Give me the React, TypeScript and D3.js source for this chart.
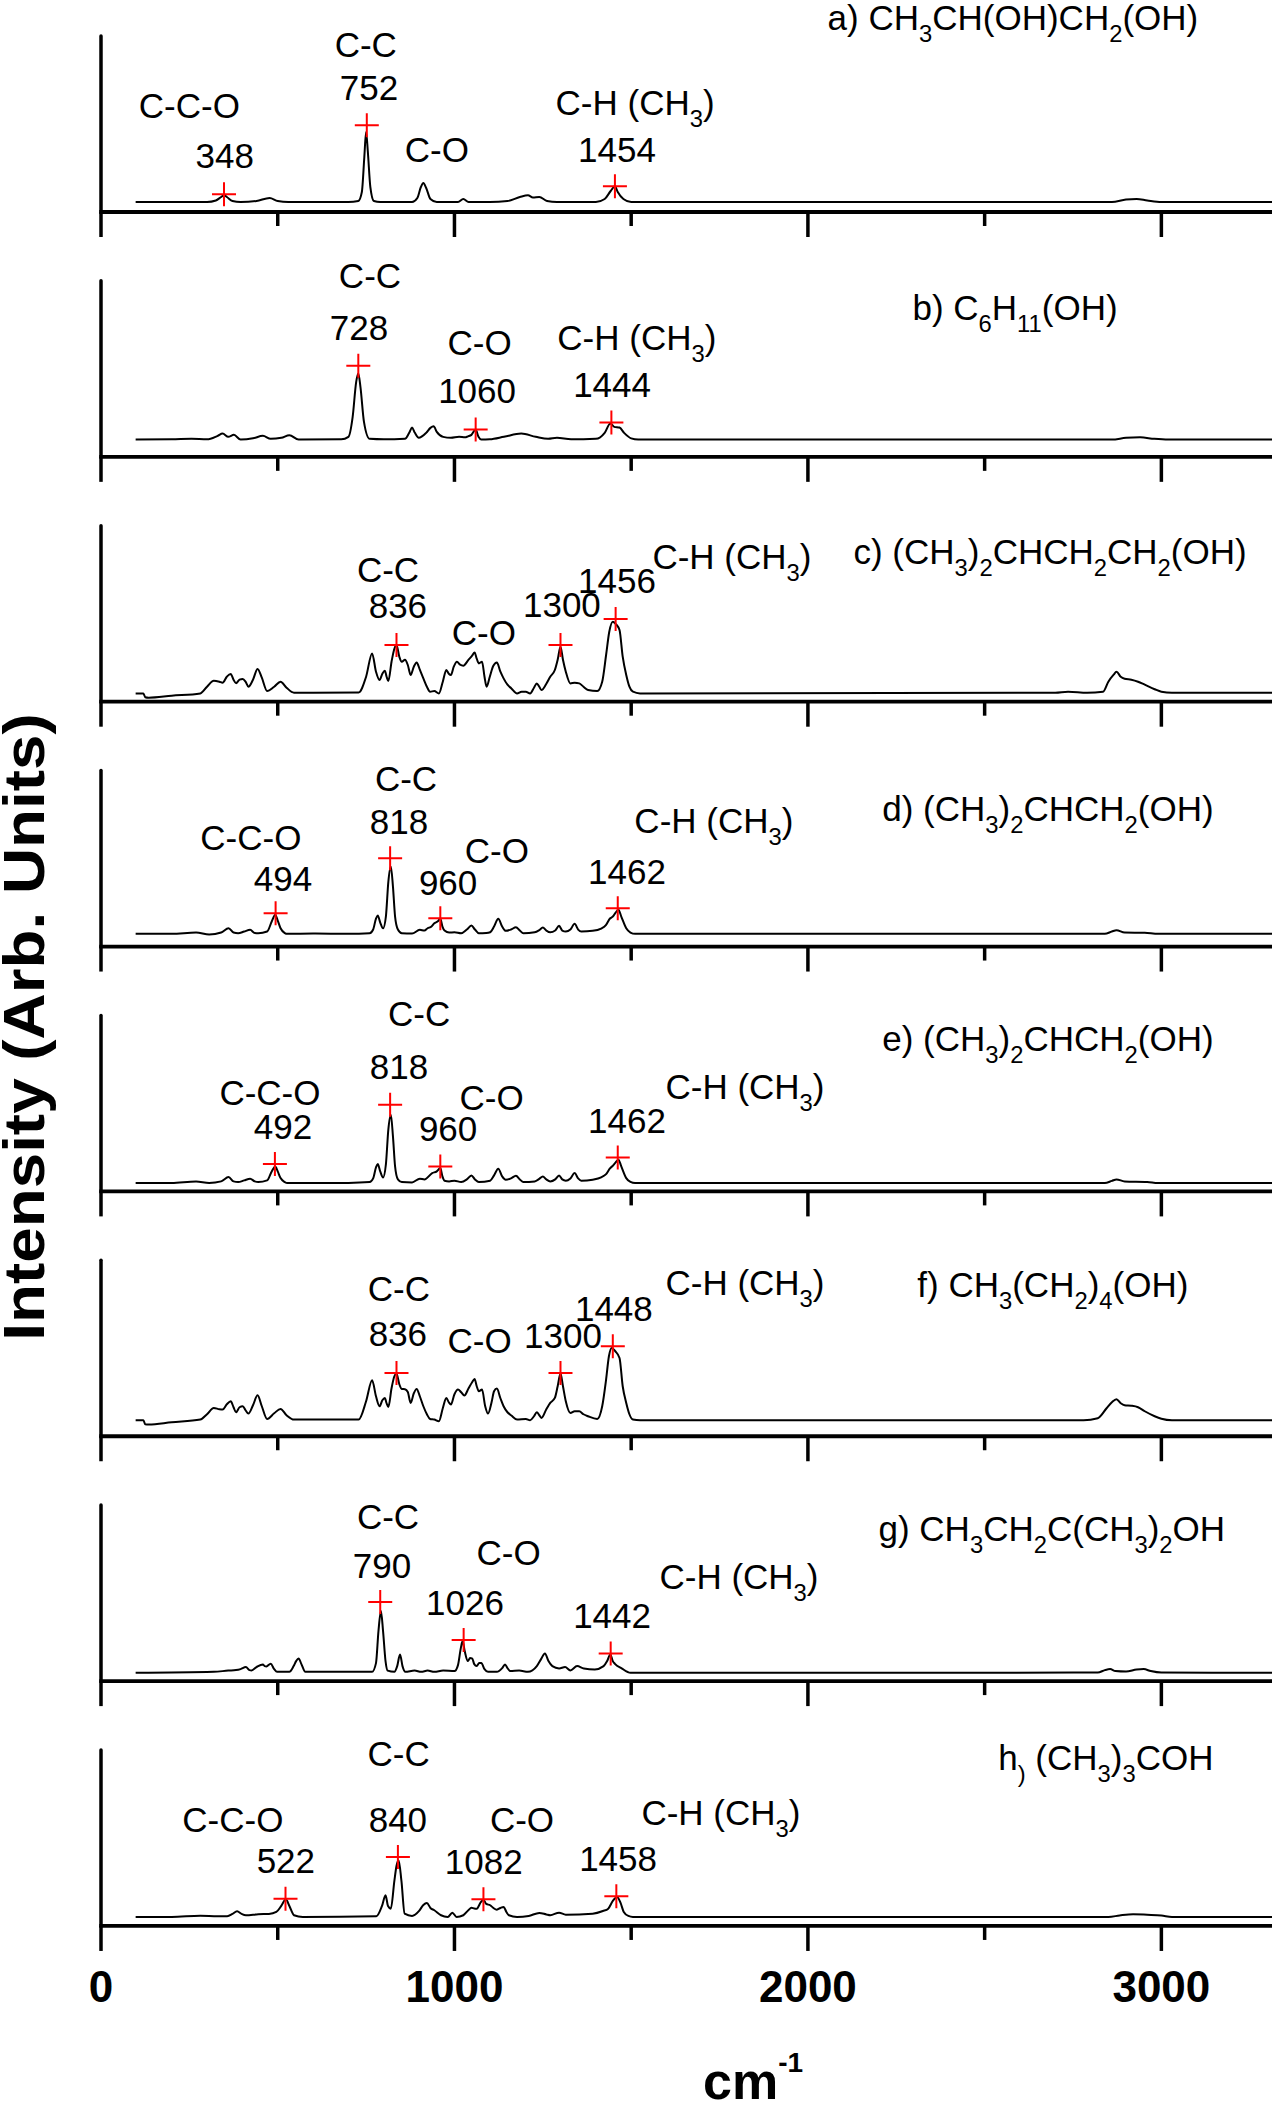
import React from 'react';
import * as d3 from 'd3';

// spectra: [wavenumber cm-1, intensity (arb.)]
const specA = [[98,0.10],[300,0.10],[325,0.115],[340,0.15],[348,0.167],[356,0.15],[372,0.11],[395,0.10],[440,0.11],[477,0.14],[500,0.11],[530,0.10],[700,0.10],[728,0.11],[738,0.2],[745,0.55],[750,0.80],[755,0.6],[762,0.25],[772,0.11],[790,0.10],[880,0.10],[895,0.14],[905,0.25],[912,0.29],[920,0.24],[932,0.13],[950,0.10],[1010,0.10],[1025,0.13],[1040,0.10],[1100,0.10],[1150,0.11],[1185,0.15],[1208,0.167],[1222,0.145],[1240,0.15],[1262,0.11],[1290,0.10],[1400,0.10],[1425,0.13],[1442,0.21],[1454,0.257],[1462,0.2],[1478,0.13],[1500,0.10],[1560,0.10],[2860,0.10],[2900,0.125],[2930,0.13],[2960,0.115],[3000,0.10],[3313,0.10]];
const specB = [[98,0.173],[200,0.175],[256,0.18],[300,0.175],[330,0.21],[344,0.233],[360,0.2],[376,0.22],[395,0.173],[430,0.185],[458,0.21],[480,0.18],[510,0.19],[533,0.217],[559,0.173],[680,0.175],[700,0.2],[712,0.4],[722,0.75],[728,0.833],[734,0.7],[744,0.35],[760,0.18],[800,0.175],[860,0.18],[872,0.24],[880,0.293],[888,0.24],[899,0.19],[920,0.24],[932,0.29],[941,0.307],[950,0.25],[968,0.2],[990,0.19],[1013,0.2],[1030,0.195],[1038,0.205],[1048,0.22],[1060,0.273],[1068,0.2],[1076,0.173],[1100,0.175],[1140,0.2],[1189,0.233],[1230,0.2],[1265,0.18],[1290,0.19],[1330,0.175],[1400,0.18],[1425,0.24],[1441,0.333],[1452,0.3],[1467,0.293],[1480,0.24],[1500,0.185],[1520,0.173],[2860,0.173],[2900,0.19],[2940,0.195],[2980,0.18],[3020,0.173],[3313,0.173]];
const specC = [[98,0.083],[120,0.083],[125,0.045],[135,0.04],[200,0.06],[281,0.083],[300,0.15],[319,0.21],[335,0.2],[344,0.19],[356,0.25],[367,0.277],[375,0.22],[382,0.185],[392,0.22],[401,0.227],[409,0.2],[417,0.15],[430,0.22],[443,0.327],[455,0.24],[470,0.107],[490,0.15],[508,0.2],[525,0.14],[546,0.09],[600,0.09],[729,0.093],[750,0.25],[767,0.483],[778,0.3],[788,0.217],[796,0.28],[803,0.31],[808,0.25],[813,0.207],[822,0.4],[830,0.53],[836,0.567],[844,0.45],[851,0.4],[860,0.42],[868,0.367],[876,0.267],[885,0.35],[893,0.393],[902,0.32],[912,0.233],[922,0.15],[931,0.1],[943,0.107],[956,0.083],[967,0.2],[977,0.317],[984,0.28],[990,0.267],[998,0.35],[1007,0.4],[1016,0.37],[1025,0.36],[1040,0.42],[1050,0.46],[1057,0.493],[1063,0.43],[1069,0.383],[1078,0.4],[1085,0.25],[1091,0.15],[1100,0.25],[1110,0.36],[1120,0.393],[1130,0.3],[1139,0.233],[1150,0.17],[1161,0.133],[1177,0.083],[1190,0.1],[1202,0.1],[1214,0.083],[1225,0.14],[1233,0.183],[1240,0.15],[1246,0.117],[1260,0.18],[1271,0.25],[1284,0.317],[1292,0.42],[1300,0.55],[1307,0.42],[1315,0.3],[1328,0.183],[1340,0.19],[1353,0.183],[1365,0.15],[1378,0.117],[1404,0.107],[1418,0.2],[1429,0.467],[1438,0.7],[1448,0.8],[1458,0.77],[1467,0.717],[1476,0.45],[1486,0.267],[1495,0.15],[1505,0.1],[1525,0.083],[2700,0.09],[2736,0.1],[2790,0.09],[2835,0.1],[2850,0.2],[2865,0.27],[2873,0.30],[2885,0.25],[2896,0.23],[2915,0.22],[2934,0.2],[2953,0.17],[2981,0.125],[3000,0.1],[3030,0.09],[3313,0.09]];
const specD = [[98,0.127],[200,0.127],[269,0.14],[306,0.12],[340,0.14],[361,0.183],[375,0.14],[388,0.133],[405,0.15],[422,0.167],[435,0.135],[445,0.133],[470,0.15],[483,0.25],[493,0.317],[500,0.26],[508,0.183],[520,0.135],[527,0.127],[600,0.13],[700,0.127],[760,0.133],[770,0.17],[778,0.28],[783,0.31],[790,0.24],[798,0.183],[806,0.3],[813,0.65],[820,0.8],[826,0.6],[832,0.3],[840,0.17],[851,0.133],[880,0.13],[902,0.167],[915,0.16],[924,0.183],[935,0.2],[943,0.233],[952,0.25],[960,0.277],[966,0.2],[972,0.16],[985,0.14],[1000,0.143],[1019,0.133],[1035,0.17],[1048,0.21],[1058,0.17],[1069,0.133],[1090,0.135],[1101,0.143],[1112,0.2],[1124,0.277],[1135,0.2],[1145,0.157],[1160,0.17],[1174,0.193],[1185,0.16],[1195,0.133],[1227,0.143],[1240,0.165],[1250,0.19],[1260,0.16],[1271,0.143],[1285,0.16],[1296,0.207],[1305,0.16],[1315,0.15],[1328,0.17],[1340,0.227],[1350,0.17],[1359,0.15],[1391,0.157],[1415,0.18],[1429,0.217],[1440,0.28],[1448,0.3],[1456,0.34],[1464,0.367],[1472,0.3],[1486,0.183],[1498,0.14],[1511,0.127],[1560,0.127],[2840,0.127],[2860,0.15],[2873,0.163],[2896,0.14],[2953,0.137],[2991,0.127],[3313,0.127]];
const specE = [[98,0.083],[200,0.085],[269,0.1],[306,0.085],[340,0.1],[361,0.143],[375,0.1],[388,0.093],[405,0.11],[422,0.127],[435,0.1],[445,0.093],[470,0.11],[483,0.2],[493,0.25],[500,0.2],[508,0.133],[520,0.093],[527,0.083],[700,0.085],[760,0.093],[770,0.13],[778,0.24],[783,0.273],[790,0.2],[798,0.14],[806,0.27],[813,0.62],[820,0.767],[826,0.55],[832,0.25],[840,0.12],[851,0.093],[880,0.09],[902,0.127],[915,0.12],[937,0.183],[950,0.2],[960,0.233],[966,0.15],[972,0.107],[985,0.1],[1000,0.107],[1019,0.093],[1035,0.12],[1048,0.16],[1058,0.12],[1069,0.093],[1101,0.107],[1112,0.16],[1124,0.227],[1135,0.15],[1145,0.117],[1160,0.13],[1174,0.157],[1185,0.12],[1195,0.093],[1227,0.1],[1240,0.125],[1250,0.15],[1260,0.12],[1271,0.1],[1285,0.12],[1296,0.16],[1305,0.12],[1315,0.107],[1328,0.13],[1340,0.183],[1350,0.13],[1359,0.107],[1391,0.117],[1415,0.14],[1429,0.173],[1440,0.23],[1448,0.257],[1456,0.29],[1464,0.317],[1472,0.25],[1486,0.133],[1498,0.095],[1511,0.083],[2840,0.083],[2860,0.105],[2873,0.12],[2896,0.1],[2960,0.095],[2990,0.083],[3313,0.083]];
const specF = [[98,0.16],[120,0.16],[125,0.12],[135,0.117],[200,0.14],[281,0.167],[300,0.22],[319,0.283],[335,0.27],[344,0.267],[356,0.32],[367,0.35],[375,0.29],[382,0.24],[392,0.29],[401,0.3],[409,0.26],[417,0.227],[430,0.31],[443,0.41],[455,0.3],[470,0.173],[490,0.23],[508,0.273],[525,0.21],[546,0.167],[600,0.167],[729,0.167],[750,0.35],[767,0.56],[778,0.4],[788,0.3],[796,0.36],[803,0.383],[808,0.33],[813,0.293],[822,0.48],[830,0.6],[836,0.627],[844,0.52],[851,0.473],[860,0.47],[868,0.443],[876,0.333],[885,0.43],[893,0.473],[902,0.4],[912,0.3],[922,0.22],[931,0.173],[943,0.167],[956,0.15],[967,0.28],[977,0.383],[984,0.34],[990,0.317],[1000,0.42],[1010,0.467],[1019,0.44],[1028,0.407],[1040,0.48],[1050,0.54],[1057,0.573],[1063,0.5],[1069,0.45],[1078,0.467],[1087,0.3],[1095,0.227],[1105,0.34],[1112,0.45],[1120,0.477],[1130,0.38],[1139,0.3],[1150,0.24],[1161,0.207],[1177,0.167],[1202,0.173],[1214,0.16],[1225,0.2],[1233,0.24],[1240,0.21],[1246,0.183],[1260,0.27],[1271,0.333],[1284,0.383],[1292,0.5],[1300,0.627],[1307,0.5],[1315,0.35],[1328,0.233],[1340,0.25],[1353,0.25],[1365,0.22],[1378,0.2],[1404,0.173],[1418,0.3],[1429,0.567],[1437,0.8],[1445,0.883],[1455,0.85],[1467,0.783],[1476,0.5],[1486,0.333],[1495,0.22],[1505,0.167],[1525,0.16],[2780,0.16],[2820,0.18],[2845,0.28],[2860,0.34],[2873,0.37],[2885,0.33],[2896,0.31],[2915,0.305],[2934,0.29],[2953,0.25],[2981,0.2],[3000,0.175],[3030,0.16],[3313,0.16]];
const specG = [[98,0.083],[319,0.093],[360,0.105],[382,0.11],[395,0.12],[410,0.14],[420,0.11],[426,0.107],[440,0.14],[458,0.167],[463,0.15],[468,0.147],[480,0.173],[490,0.12],[498,0.093],[533,0.093],[545,0.15],[552,0.2],[559,0.227],[567,0.17],[578,0.093],[767,0.093],[778,0.18],[785,0.5],[792,0.7],[798,0.5],[805,0.2],[811,0.105],[830,0.093],[838,0.15],[846,0.267],[853,0.15],[861,0.093],[887,0.105],[906,0.093],[924,0.105],[943,0.093],[968,0.105],[1000,0.1],[1010,0.16],[1018,0.33],[1023,0.4],[1029,0.3],[1038,0.2],[1044,0.23],[1050,0.227],[1056,0.17],[1063,0.15],[1070,0.18],[1076,0.18],[1085,0.12],[1095,0.093],[1120,0.093],[1135,0.13],[1143,0.167],[1150,0.13],[1158,0.1],[1183,0.105],[1208,0.093],[1233,0.15],[1245,0.22],[1256,0.277],[1266,0.2],[1277,0.15],[1296,0.127],[1313,0.14],[1328,0.107],[1347,0.15],[1366,0.127],[1397,0.117],[1422,0.15],[1432,0.2],[1441,0.267],[1448,0.2],[1454,0.173],[1473,0.127],[1498,0.083],[2820,0.085],[2840,0.11],[2855,0.12],[2870,0.1],[2900,0.095],[2930,0.115],[2950,0.12],[2970,0.1],[3000,0.085],[3313,0.083]];
const specH = [[98,0.09],[200,0.09],[281,0.103],[330,0.097],[357,0.097],[372,0.12],[385,0.147],[398,0.12],[410,0.107],[445,0.117],[475,0.12],[496,0.14],[510,0.2],[523,0.267],[533,0.2],[546,0.107],[571,0.09],[779,0.097],[795,0.2],[805,0.307],[812,0.2],[820,0.173],[830,0.45],[836,0.6],[842,0.657],[850,0.45],[859,0.123],[880,0.1],[900,0.15],[912,0.21],[922,0.23],[932,0.18],[943,0.157],[962,0.107],[981,0.09],[994,0.133],[1006,0.09],[1025,0.107],[1040,0.16],[1048,0.183],[1056,0.175],[1063,0.173],[1075,0.24],[1082,0.263],[1090,0.22],[1101,0.207],[1110,0.18],[1120,0.163],[1130,0.18],[1139,0.19],[1147,0.14],[1154,0.107],[1177,0.09],[1210,0.1],[1240,0.13],[1260,0.115],[1271,0.107],[1296,0.133],[1315,0.113],[1391,0.123],[1420,0.15],[1435,0.173],[1448,0.25],[1460,0.29],[1470,0.23],[1479,0.14],[1492,0.1],[1505,0.09],[2850,0.09],[2882,0.105],[2920,0.117],[2960,0.112],[3000,0.105],[3030,0.09],[3313,0.09]];

// red crosses on assigned peaks
const peaksA = [[348,0.177],[752,0.867],[1454,0.257]];
const peaksB = [[728,0.91],[1060,0.273],[1444,0.343]];
const peaksC = [[836,0.567],[1300,0.567],[1456,0.827]];
const peaksD = [[494,0.333],[818,0.883],[960,0.283],[1462,0.383]];
const peaksE = [[492,0.273],[818,0.867],[960,0.25],[1462,0.34]];
const peaksF = [[836,0.633],[1300,0.633],[1448,0.9]];
const peaksG = [[790,0.79],[1026,0.41],[1442,0.277]];
const peaksH = [[522,0.273],[840,0.69],[1082,0.267],[1458,0.297]];

// annotations: [text, wavenumber, intensity]  (_n = subscript)
const labelsA = [['C-C-O',250,0.94],['348',350,0.44],['C-C',749,1.55],['752',758,1.12],['C-O',950,0.50],['C-H (CH_3)',1511,0.97],['1454',1460,0.50]];
const labelsB = [['C-C',761,1.69],['728',730,1.17],['C-O',1071,1.02],['1060',1064,0.54],['C-H (CH_3)',1516,1.07],['1444',1446,0.60]];
const labelsC = [['C-C',812,1.20],['836',840,0.84],['C-O',1083,0.57],['1300',1304,0.85],['1456',1460,1.09],['C-H (CH_3)',1785,1.33]];
const labelsD = [['C-C-O',424,0.97],['494',515,0.56],['C-C',863,1.56],['818',843,1.13],['C-O',1120,0.84],['960',982,0.52],['C-H (CH_3)',1734,1.14],['1462',1488,0.63]];
const labelsE = [['C-C',900,1.65],['818',843,1.12],['C-C-O',478,0.86],['492',515,0.52],['C-O',1105,0.81],['960',982,0.50],['C-H (CH_3)',1822,0.92],['1462',1488,0.58]];
const labelsF = [['C-C',843,1.35],['836',840,0.90],['C-O',1071,0.83],['1300',1307,0.88],['1448',1451,1.15],['C-H (CH_3)',1822,1.41]];
const labelsG = [['C-C',812,1.52],['790',795,1.03],['C-O',1153,1.16],['1026',1030,0.66],['C-H (CH_3)',1805,0.92],['1442',1446,0.53]];
const labelsH = [['C-C',842,1.60],['C-C-O',373,0.94],['840',840,0.94],['C-O',1191,0.94],['522',523,0.53],['1082',1083,0.52],['1458',1463,0.55],['C-H (CH_3)',1754,1.01]];

const titles = [
  ['a) CH_3CH(OH)CH_2(OH)', 2580, 1.82],
  ['b) C_6H_11(OH)', 2586, 1.37],
  ['c) (CH_3)_2CHCH_2CH_2(OH)', 2685, 1.38],
  ['d) (CH_3)_2CHCH_2(OH)', 2679, 1.26],
  ['e) (CH_3)_2CHCH_2(OH)', 2679, 1.40],
  ['f) CH_3(CH_2)_4(OH)', 2693, 1.39],
  ['g) CH_3CH_2C(CH_3)_2OH', 2690, 1.40],
  ['h_) (CH_3)_3COH', 2843, 1.56],
];

const spectra = [specA, specB, specC, specD, specE, specF, specG, specH];
const peaks = [peaksA, peaksB, peaksC, peaksD, peaksE, peaksF, peaksG, peaksH];
const labels = [labelsA, labelsB, labelsC, labelsD, labelsE, labelsF, labelsG, labelsH];

const xTicks = [0, 500, 1000, 1500, 2000, 2500, 3000];

const W = 1272;
const H = 2105;
const font = "'Liberation Sans', Arial, Helvetica, sans-serif";

const x = d3.scaleLinear().domain([0, 3313]).range([101, 1272]);

// text with "_n" subscripts
function rich(str: string) {
  const parts = str.split(/_(\d+|\))/);
  let off = 0;
  const out: any[] = [];
  parts.forEach((p, i) => {
    if (!p) return;
    const sub = i % 2 === 1;
    const target = sub ? 12 : 0;
    out.push(
      <tspan key={i} dy={target - off} fontSize={sub ? '0.68em' : undefined}>{p}</tspan>
    );
    off = target;
  });
  return out;
}

function Panel({ idx }: { idx: number }) {
  const base = 212 + 244.85 * idx;
  const y = d3.scaleLinear().domain([0, 1]).range([base, base - 100]);
  const line = d3.line<number[]>()
    .x(d => x(d[0]))
    .y(d => y(d[1]))
    .curve(d3.curveMonotoneX);

  const [tt, tx, ty] = titles[idx] as [string, number, number];

  return (
    <g>
      {/* axes */}
      <line x1={x(0)} x2={x(0)} y1={base - 176} y2={base} stroke="#000" strokeWidth={3.5} strokeLinecap="round" />
      <line x1={x(0) - 1.75} x2={W} y1={base} y2={base} stroke="#000" strokeWidth={3.8} />
      {xTicks.map(t => (
        <line key={t} x1={x(t)} x2={x(t)} y1={base} y2={base + (t % 1000 === 0 ? 25 : 14)}
          stroke="#000" strokeWidth={3.5} />
      ))}

      <path d={line(spectra[idx] as number[][]) || ''} fill="none" stroke="#000" strokeWidth={2} strokeLinejoin="round" />

      {peaks[idx].map((p, i) => {
        const cx = x(p[0]);
        const cy = y(p[1]);
        return <path key={i} d={`M${cx - 12},${cy}h24M${cx},${cy - 12}v24`} stroke="#ff0000" strokeWidth={2} fill="none" />;
      })}

      {labels[idx].map((l, i) => (
        <text key={i} x={x(l[1] as number)} y={y(l[2] as number)}
          textAnchor="middle" fontFamily={font} fontSize={35} fill="#000">
          {rich(l[0] as string)}
        </text>
      ))}

      <text x={x(tx)} y={y(ty)} textAnchor="middle"
        fontFamily={font} fontSize={35} fill="#000">
        {rich(tt)}
      </text>
    </g>
  );
}

export default function App() {
  const lastBase = 212 + 244.85 * 7;
  return (
    <div style={{ position: 'absolute', left: 0, top: 0, background: '#fff' }}>
      <svg width={W} height={H} style={{ display: 'block' }}>
        <rect width={W} height={H} fill="#fff" />
        {spectra.map((_, i) => <Panel key={i} idx={i} />)}

        {xTicks.filter(t => t % 1000 === 0).map(t => (
          <text key={t} x={x(t)} y={lastBase + 76} textAnchor="middle" fontFamily={font}
            fontWeight="bold" fontSize={44}>{t}</text>
        ))}

        <text x={703} y={2099} fontFamily={font} fontWeight="bold" fontSize={52}>
          cm<tspan fontSize={28} dy={-27}>-1</tspan>
        </text>

        <text transform="translate(44,1027) rotate(-90) scale(1.12,1)" textAnchor="middle"
          fontFamily={font} fontWeight="bold" fontSize={57}>
          Intensity (Arb. Units)
        </text>
      </svg>
    </div>
  );
}
